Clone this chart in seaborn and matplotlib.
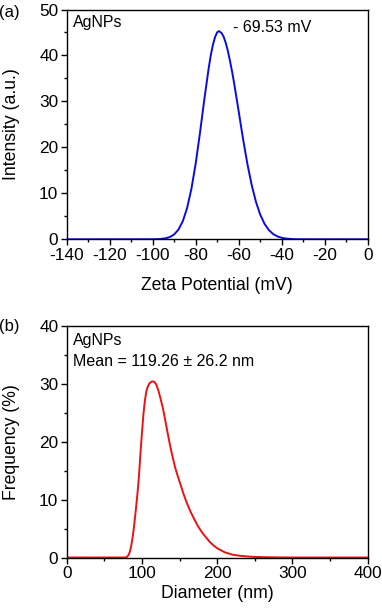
import numpy as np
import pandas as pd
import matplotlib
matplotlib.use("Agg")
import matplotlib.pyplot as plt
import seaborn as sns
from matplotlib.ticker import MultipleLocator

# ---- data ----
zeta_mv = [-140, -100, -98, -96, -94, -92, -90, -88, -86, -84, -82, -80, -78, -76, -74, -73, -72,
           -71, -70, -69.2, -68, -67, -66, -65, -64, -63, -62, -60, -58, -56, -54, -52, -50, -48,
           -46, -44, -42, -40, -38, -36, -34, -32, 0]
zeta_intensity = [0, 0.01, 0.03, 0.09, 0.22, 0.50, 1.07, 2.12, 3.94, 6.80, 10.97, 16.5, 23.2,
                  30.4, 37.1, 40.0, 42.3, 44.0, 45.05, 45.3, 44.9, 44.06, 42.7, 40.9, 38.7, 36.3,
                  33.6, 27.8, 21.9, 16.5, 11.9, 8.19, 5.38, 3.37, 2.02, 1.15, 0.63, 0.33, 0.16,
                  0.08, 0.03, 0.01, 0]

diam_nm = [0, 78, 80, 82, 84, 86, 88, 90, 92, 94, 96, 98, 100, 102, 104, 106, 108, 110, 113,
           116, 119, 122, 125, 128, 131, 134, 137, 140, 144, 148, 152, 156, 160, 165, 170, 175,
           180, 185, 190, 195, 200, 210, 220, 230, 240, 250, 265, 280, 300, 400]
diam_freq = [0, 0, 0.1, 0.4, 1.0, 2.2, 3.8, 6.0, 8.4, 11.0, 14.0, 18.0, 21.5, 24.8, 27.2, 28.8,
             29.6, 30.1, 30.4, 30.4, 29.9, 28.8, 27.3, 25.7, 23.7, 21.6, 19.6, 17.8, 15.6, 13.9,
             12.3, 10.7, 9.3, 7.8, 6.5, 5.3, 4.3, 3.5, 2.7, 2.1, 1.6, 0.9, 0.5, 0.3, 0.18, 0.1,
             0.05, 0.02, 0, 0]

zeta_xticks = [-140, -120, -100, -80, -60, -40, -20, 0]
zeta_yticks = [0, 10, 20, 30, 40, 50]
diam_xticks = [0, 100, 200, 300, 400]
diam_yticks = [0, 10, 20, 30, 40]

sns.set_theme(style="ticks")
plt.rcParams["font.family"] = ["Liberation Sans", "DejaVu Sans"]
plt.rcParams["axes.unicode_minus"] = False
plt.rcParams["text.color"] = "black"
plt.rcParams["axes.labelcolor"] = "black"

W, H = 382, 611
fig = plt.figure(figsize=(W / 100, H / 100), dpi=100)

def ax_rect(l, t, r, b):
    return [l / W, 1 - b / H, (r - l) / W, (b - t) / H]

top1, bot1 = 9.5, 239.3
top2, bot2 = 326, 557.5
left, right = 66.7, 367.7
ax1 = fig.add_axes(ax_rect(left, top1, right, bot1))
ax2 = fig.add_axes(ax_rect(left, top2, right, bot2))

df1 = pd.DataFrame({"x": zeta_mv, "y": zeta_intensity})
df2 = pd.DataFrame({"x": diam_nm, "y": diam_freq})
sns.lineplot(data=df1, x="x", y="y", ax=ax1, color="#0a0ae6", linewidth=1.4, sort=False)
sns.lineplot(data=df2, x="x", y="y", ax=ax2, color="#ee1111", linewidth=1.4, sort=False)

tick_fs = 12.4
lab_fs = 12.7
for ax in (ax1, ax2):
    for s in ax.spines.values():
        s.set_visible(True)
        s.set_color("black")
        s.set_linewidth(1.0)
    ax.tick_params(axis="both", which="major", direction="out", length=4, width=1.0,
                   labelsize=tick_fs, colors="black", pad=2)
    ax.tick_params(axis="both", which="minor", direction="out", length=2.2, width=1.0,
                   colors="black")

ax1.set_xlim(-140, 0)
ax1.set_ylim(0, 50)
ax1.set_xticks(zeta_xticks)
ax1.set_yticks(zeta_yticks)
ax1.xaxis.set_minor_locator(MultipleLocator(10))
ax1.yaxis.set_minor_locator(MultipleLocator(5))
ax1.set_xlabel("Zeta Potential (mV)", fontsize=lab_fs)
ax1.set_ylabel("Intensity (a.u.)", fontsize=lab_fs)
ax1.xaxis.set_label_coords(0.5, (bot1 - 285) / (bot1 - top1))
ax1.yaxis.set_label_coords((12 - left) / (right - left), 0.5)
ax1.xaxis.label.set_va("center")
ax1.yaxis.label.set_va("center")

ax2.set_xlim(0, 400)
ax2.set_ylim(0, 40)
ax2.set_xticks(diam_xticks)
ax2.set_yticks(diam_yticks)
ax2.xaxis.set_minor_locator(MultipleLocator(50))
ax2.yaxis.set_minor_locator(MultipleLocator(5))
ax2.set_xlabel("Diameter (nm)", fontsize=lab_fs)
ax2.set_ylabel("Frequency (%)", fontsize=lab_fs)
ax2.xaxis.set_label_coords(0.5, (bot2 - 593) / (bot2 - top2))
ax2.yaxis.set_label_coords((12 - left) / (right - left), 0.5)
ax2.xaxis.label.set_va("center")
ax2.yaxis.label.set_va("center")

txt_fs = 11.5
fig.text(73 / W, 1 - 23 / H, "AgNPs", fontsize=txt_fs, va="center", ha="left")
fig.text(233 / W, 1 - 27 / H, "- 69.53 mV", fontsize=txt_fs, va="center", ha="left")
fig.text(73 / W, 1 - 341 / H, "AgNPs", fontsize=txt_fs, va="center", ha="left")
fig.text(73 / W, 1 - 362 / H, "Mean = 119.26 \u00b1 26.2 nm", fontsize=txt_fs, va="center", ha="left")
fig.text(-1 / W, 1 - 12 / H, "(a)", fontsize=12, va="center", ha="left")
fig.text(-1 / W, 1 - 327 / H, "(b)", fontsize=12, va="center", ha="left")

fig.savefig("out.png", dpi=100, facecolor="white")
